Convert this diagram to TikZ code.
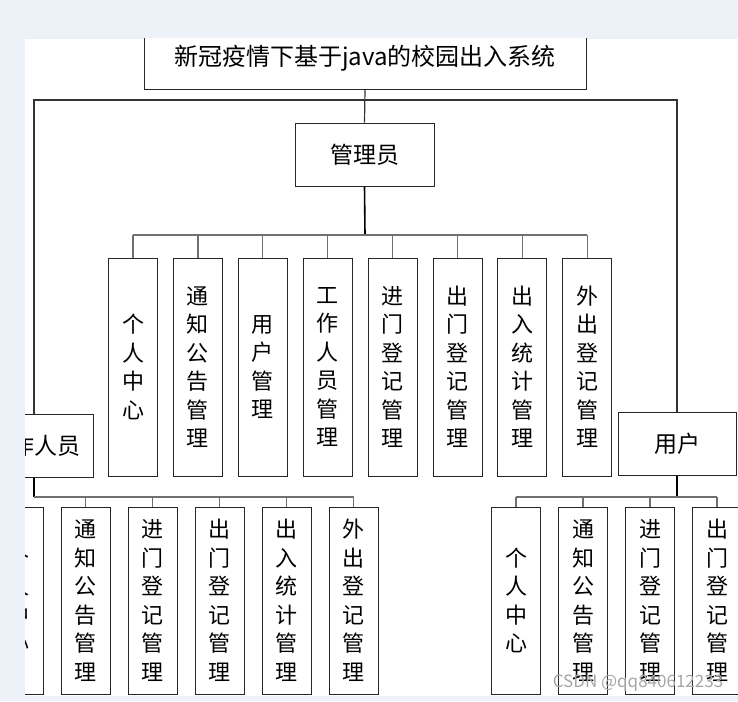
\documentclass[tikz,border=0pt]{standalone}
\usepackage{fontspec}
\setmainfont{Noto Sans CJK SC}
\usetikzlibrary{positioning}
\definecolor{pageBlue}{RGB}{237,241,248}
\definecolor{busGray}{RGB}{112,112,112}
\tikzset{
  box/.style={draw=black!85, line width=1pt, fill=white, align=center, inner sep=0pt, font=\fontsize{23}{28.5}\selectfont},
  tall/.style={box, minimum width=49pt, minimum height=218pt, font=\fontsize{22}{28.5}\selectfont},
  short/.style={box, minimum width=49pt, minimum height=187pt, font=\fontsize{22}{28.5}\selectfont},
  trunk/.style={black, line width=1.6pt},
  bus/.style={busGray, line width=1.2pt},
  link/.style={black!80, line width=1.2pt},
  watermark/.style={text=black!35, font=\fontsize{17}{17}\selectfont}
}

\begin{document}
\begin{tikzpicture}[x=1pt,y=-1pt]
  \fill[pageBlue] (0,0) rectangle (738,701);
  \begin{scope}
  \clip (25,39) rectangle (738,696);
  \fill[white] (25,39) rectangle (738,696);

  \node[box, minimum width=442pt, minimum height=61pt, font=\fontsize{24}{28.5}\selectfont] (title) at (365,58.5) {新冠疫情下基于java的校园出入系统};
  \node[box, minimum width=139pt, minimum height=63pt] (admin) at (364.5,154.5) {管理员};
  \node[box, minimum width=118pt, minimum height=63pt] (staff) at (34,445.5) {工作人员};
  \node[box, minimum width=118pt, minimum height=63pt] (user) at (677,443.5) {用户};

  % second level under the admin
  \foreach \i/\t in {1/{个\\人\\中\\心}, 2/{通\\知\\公\\告\\管\\理}, 3/{用\\户\\管\\理},
      4/{工\\作\\人\\员\\管\\理}, 5/{进\\门\\登\\记\\管\\理}, 6/{出\\门\\登\\记\\管\\理},
      7/{出\\入\\统\\计\\管\\理}, 8/{外\\出\\登\\记\\管\\理}}
    \node[tall] (a\i) at ({133+64.9*(\i-1)},367) {\t};

  % children of the staff
  \foreach \i/\t in {0/{个\\人\\中\\心}, 1/{通\\知\\公\\告\\管\\理}, 2/{进\\门\\登\\记\\管\\理},
      3/{出\\门\\登\\记\\管\\理}, 4/{出\\入\\统\\计\\管\\理}, 5/{外\\出\\登\\记\\管\\理}}
    \node[short] (s\i) at ({18.5+67*\i},600.5) {\t};

  % children of the user
  \foreach \i/\t in {1/{个\\人\\中\\心}, 2/{通\\知\\公\\告\\管\\理}, 3/{进\\门\\登\\记\\管\\理},
      4/{出\\门\\登\\记\\管\\理}}
    \node[short] (u\i) at ({516+67*(\i-1)},600.5) {\t};

  \coordinate (fork) at (365,100);
  \coordinate (abus) at (365,235);
  \coordinate (sbus) at (34,497);
  \coordinate (ubus) at (677,497);

  \draw[link] (title.south) -- (admin.north);
  \draw[link] (staff.north) |- (fork) -| (user.north);

  \draw[trunk] (admin.south) -- (abus);
  \draw[bus] (a1.north |- abus) -- (a8.north |- abus);
  \foreach \i in {1,...,8}
    \draw[bus] (a\i.north) -- (a\i.north |- abus);

  \draw[trunk] (staff.south) -- (sbus);
  \draw[bus] (sbus) -- (s5.north |- sbus);
  \foreach \i in {1,...,5}
    \draw[bus] (s\i.north) -- (s\i.north |- sbus);

  \draw[trunk] (user.south) -- (ubus);
  \draw[bus] (u1.north |- ubus) -- (u4.north |- ubus);
  \foreach \i in {1,...,4}
    \draw[bus] (u\i.north) -- (u\i.north |- ubus);

  \node[watermark] (wm) at (638,683) {CSDN @qq840612233};
  \end{scope}
\end{tikzpicture}
\end{document}
